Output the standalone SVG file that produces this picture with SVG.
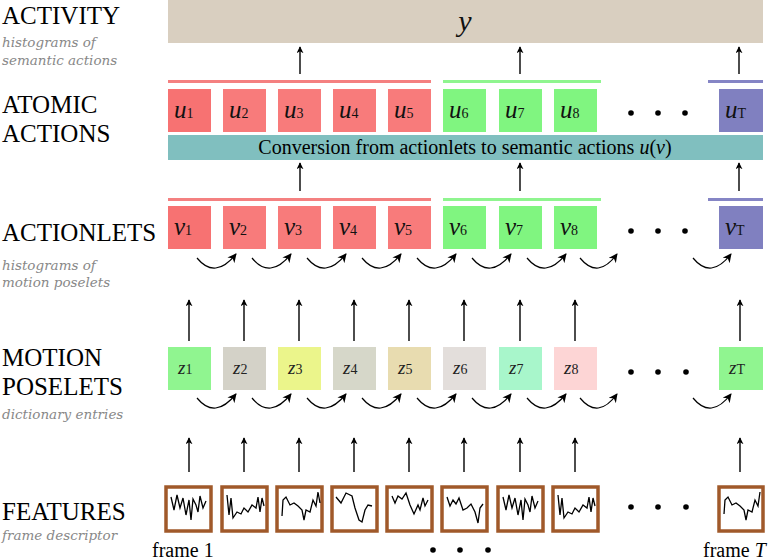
<svg xmlns="http://www.w3.org/2000/svg" width="781" height="560" viewBox="0 0 781 560">
<defs>
<marker id="ah" viewBox="0 0 10 10" refX="9" refY="5" markerWidth="7" markerHeight="7" orient="auto-start-reverse" markerUnits="userSpaceOnUse"><path d="M0,0 L10,5 L0,10 L3,5 z" fill="#000"/></marker>
<marker id="ah2" viewBox="0 0 10 10" refX="9" refY="5" markerWidth="9" markerHeight="9" orient="auto" markerUnits="userSpaceOnUse"><path d="M0,0 L10,5 L0,10 L3,5 z" fill="#000"/></marker>
<style>
.lbl{font-family:"Liberation Serif","DejaVu Serif",serif;font-size:25px;fill:#000}
.sub{font-family:"DejaVu Serif","Liberation Serif",serif;font-size:13.5px;font-style:italic;fill:#888}
.var{font-family:"Liberation Serif","DejaVu Serif",serif;font-size:25px;font-style:italic;fill:#111}
.zv{font-family:"Liberation Serif","DejaVu Serif",serif;font-size:19px;font-style:italic;fill:#222}
.idx{font-style:normal;font-size:14px}
.up{stroke:#000;stroke-width:1.4;fill:none;marker-end:url(#ah)}
.cv{stroke:#000;stroke-width:1.2;fill:none;marker-end:url(#ah2)}
.fr{fill:#fff;stroke:#a0592a;stroke-width:3.5}
.wv{fill:none;stroke:#000;stroke-width:1.3}
.dot{fill:#000}
</style>
</defs>
<rect width="781" height="560" fill="#fff"/>
<g id="labels">
<text class="lbl" x="2" y="24">ACTIVITY</text>
<text class="sub" x="2" y="47">histograms of</text>
<text class="sub" x="2" y="65">semantic actions</text>
<text class="lbl" x="2" y="113">ATOMIC</text>
<text class="lbl" x="2" y="142">ACTIONS</text>
<text class="lbl" x="2" y="241">ACTIONLETS</text>
<text class="sub" x="2" y="270">histograms of</text>
<text class="sub" x="2" y="287">motion poselets</text>
<text class="lbl" x="2" y="366">MOTION</text>
<text class="lbl" x="2" y="395">POSELETS</text>
<text class="sub" x="2" y="419">dictionary entries</text>
<text class="lbl" x="2" y="520">FEATURES</text>
<text class="sub" x="2" y="540">frame descriptor</text>
<text class="lbl" x="152" y="557" style="font-size:20px">frame 1</text>
<text class="lbl" x="703" y="557" style="font-size:20px">frame <tspan font-style="italic">T</tspan></text>
</g>
<g id="activity"><rect x="168" y="0" width="595" height="43" fill="#d9cfc0"/><text class="var" x="465" y="31" text-anchor="middle" style="font-size:30px">y</text></g>
<g id="groupbars">
<rect x="168" y="80" width="263" height="3" fill="#f48080"/><rect x="443" y="80" width="158" height="3" fill="#8ff58f"/><rect x="708" y="80" width="55" height="3" fill="#8585c5"/>
<rect x="168" y="198" width="263" height="3" fill="#f48080"/><rect x="443" y="198" width="158" height="3" fill="#8ff58f"/><rect x="708" y="198" width="55" height="3" fill="#8585c5"/>
</g>
<g id="u-row">
<g id="u1"><rect x="168" y="89" width="43" height="43" fill="#f77272"/><text class="var" x="174" y="118">u<tspan class="idx">1</tspan></text></g>
<g id="u2"><rect x="223" y="89" width="43" height="43" fill="#f87b7b"/><text class="var" x="229" y="118">u<tspan class="idx">2</tspan></text></g>
<g id="u3"><rect x="278" y="89" width="43" height="43" fill="#f87b7b"/><text class="var" x="284" y="118">u<tspan class="idx">3</tspan></text></g>
<g id="u4"><rect x="333" y="89" width="43" height="43" fill="#f87b7b"/><text class="var" x="339" y="118">u<tspan class="idx">4</tspan></text></g>
<g id="u5"><rect x="388" y="89" width="43" height="43" fill="#f87b7b"/><text class="var" x="394" y="118">u<tspan class="idx">5</tspan></text></g>
<g id="u6"><rect x="443" y="89" width="43" height="43" fill="#80f580"/><text class="var" x="449" y="118">u<tspan class="idx">6</tspan></text></g>
<g id="u7"><rect x="499" y="89" width="43" height="43" fill="#80f580"/><text class="var" x="505" y="118">u<tspan class="idx">7</tspan></text></g>
<g id="u8"><rect x="554" y="89" width="43" height="43" fill="#80f580"/><text class="var" x="560" y="118">u<tspan class="idx">8</tspan></text></g>
<g id="uT"><rect x="719" y="89" width="44" height="43" fill="#8080c0"/><text class="var" x="725" y="118">u<tspan class="idx" font-style="italic">T</tspan></text></g>
<circle class="dot" cx="631" cy="113" r="2.8"/><circle class="dot" cx="658" cy="113" r="2.8"/><circle class="dot" cx="685" cy="113" r="2.8"/>
</g>
<g id="conversion"><rect x="168" y="135" width="595" height="25" fill="#80bfbf"/><text class="lbl" x="465" y="154" text-anchor="middle" style="font-size:20px">Conversion from actionlets to semantic actions <tspan font-style="italic">u</tspan>(<tspan font-style="italic">v</tspan>)</text></g>
<g id="v-row">
<g id="v1"><rect x="168" y="206" width="43" height="43" fill="#f77272"/><text class="var" x="174" y="235">v<tspan class="idx">1</tspan></text></g>
<g id="v2"><rect x="223" y="206" width="43" height="43" fill="#f87b7b"/><text class="var" x="229" y="235">v<tspan class="idx">2</tspan></text></g>
<g id="v3"><rect x="278" y="206" width="43" height="43" fill="#f87b7b"/><text class="var" x="284" y="235">v<tspan class="idx">3</tspan></text></g>
<g id="v4"><rect x="333" y="206" width="43" height="43" fill="#f87b7b"/><text class="var" x="339" y="235">v<tspan class="idx">4</tspan></text></g>
<g id="v5"><rect x="388" y="206" width="43" height="43" fill="#f87b7b"/><text class="var" x="394" y="235">v<tspan class="idx">5</tspan></text></g>
<g id="v6"><rect x="443" y="206" width="43" height="43" fill="#80f580"/><text class="var" x="449" y="235">v<tspan class="idx">6</tspan></text></g>
<g id="v7"><rect x="499" y="206" width="43" height="43" fill="#80f580"/><text class="var" x="505" y="235">v<tspan class="idx">7</tspan></text></g>
<g id="v8"><rect x="554" y="206" width="43" height="43" fill="#80f580"/><text class="var" x="560" y="235">v<tspan class="idx">8</tspan></text></g>
<g id="vT"><rect x="719" y="206" width="44" height="43" fill="#8080c0"/><text class="var" x="725" y="235">v<tspan class="idx" font-style="italic">T</tspan></text></g>
<circle class="dot" cx="631" cy="231" r="2.8"/><circle class="dot" cx="658" cy="231" r="2.8"/><circle class="dot" cx="685" cy="231" r="2.8"/>
</g>
<g id="z-row">
<g id="z1"><rect x="168" y="347" width="43" height="43" fill="#90f590"/><text class="zv" x="178" y="374">z<tspan class="idx">1</tspan></text></g>
<g id="z2"><rect x="223" y="347" width="43" height="43" fill="#d4d2c8"/><text class="zv" x="233" y="374">z<tspan class="idx">2</tspan></text></g>
<g id="z3"><rect x="278" y="347" width="43" height="43" fill="#ebf58b"/><text class="zv" x="288" y="374">z<tspan class="idx">3</tspan></text></g>
<g id="z4"><rect x="333" y="347" width="43" height="43" fill="#d6d7c9"/><text class="zv" x="343" y="374">z<tspan class="idx">4</tspan></text></g>
<g id="z5"><rect x="388" y="347" width="43" height="43" fill="#e8dcb0"/><text class="zv" x="398" y="374">z<tspan class="idx">5</tspan></text></g>
<g id="z6"><rect x="443" y="347" width="43" height="43" fill="#e3dedb"/><text class="zv" x="453" y="374">z<tspan class="idx">6</tspan></text></g>
<g id="z7"><rect x="499" y="347" width="43" height="43" fill="#a8f6cb"/><text class="zv" x="509" y="374">z<tspan class="idx">7</tspan></text></g>
<g id="z8"><rect x="554" y="347" width="43" height="43" fill="#fdd5d5"/><text class="zv" x="564" y="374">z<tspan class="idx">8</tspan></text></g>
<g id="zT"><rect x="719" y="347" width="44" height="43" fill="#90f590"/><text class="zv" x="729" y="374">z<tspan class="idx" font-style="italic">T</tspan></text></g>
<circle class="dot" cx="631" cy="372" r="2.8"/><circle class="dot" cx="658" cy="372" r="2.8"/><circle class="dot" cx="686" cy="372" r="2.8"/>
</g>
<g id="features">
<g id="f1"><rect class="fr" x="166" y="487" width="45" height="44"/><polyline class="wv" points="171,497 174,510 177,495 180,508 183,498 186,515 189,500 191,520 193,499 196,505 198,512 200,496 203,508 206,501"/></g>
<g id="f2"><rect class="fr" x="222" y="487" width="45" height="44"/><polyline class="wv" points="227,495 229,515 231,498 233,518 237,512 241,514 244,508 248,512 252,505 256,508 258,497 260,512 262,498 264,506"/></g>
<g id="f3"><rect class="fr" x="277" y="487" width="45" height="44"/><polyline class="wv" points="282,516 283,500 286,497 290,505 294,503 298,506 302,510 304,520 306,510 310,512 313,500 316,506 318,492 320,503"/></g>
<g id="f4"><rect class="fr" x="332" y="487" width="45" height="44"/><polyline class="wv" points="336,497 341,503 346,493 352,496 355,508 359,520 362,522 365,510 368,505 372,506"/></g>
<g id="f5"><rect class="fr" x="387" y="487" width="45" height="44"/><polyline class="wv" points="392,496 395,503 398,496 402,499 406,493 410,505 414,514 418,505 420,510 423,498 425,506 428,500"/></g>
<g id="f6"><rect class="fr" x="442" y="487" width="45" height="44"/><polyline class="wv" points="447,497 450,506 453,500 456,504 459,498 463,510 467,508 471,504 475,512 478,523 480,508 483,504"/></g>
<g id="f7"><rect class="fr" x="498" y="487" width="45" height="44"/><polyline class="wv" points="503,497 506,510 509,495 512,508 515,498 518,515 521,500 523,520 525,499 528,505 530,512 532,496 535,508 538,501"/></g>
<g id="f8"><rect class="fr" x="553" y="487" width="45" height="44"/><polyline class="wv" points="558,495 560,515 562,498 564,518 568,512 572,514 575,508 579,512 583,505 587,508 589,497 591,512 593,498 595,506"/></g>
<g id="fT"><rect class="fr" x="719" y="487" width="44" height="44"/><polyline class="wv" points="724,514 725,500 728,497 732,505 736,503 740,506 744,510 746,520 748,510 752,512 755,500 758,506 760,492"/></g>
<circle class="dot" cx="631" cy="507" r="2.8"/><circle class="dot" cx="658" cy="507" r="2.8"/><circle class="dot" cx="686" cy="507" r="2.8"/>
<circle class="dot" cx="433" cy="550" r="2.8"/><circle class="dot" cx="460" cy="550" r="2.8"/><circle class="dot" cx="488" cy="550" r="2.8"/>
</g>
<g id="connectors">
<line class="up" x1="300" y1="74" x2="300" y2="47"/><line class="up" x1="520" y1="74" x2="520" y2="47"/><line class="up" x1="739" y1="74" x2="739" y2="47"/>
<line class="up" x1="300" y1="191" x2="300" y2="163"/><line class="up" x1="520" y1="191" x2="520" y2="163"/><line class="up" x1="739" y1="191" x2="739" y2="163"/>
<line class="up" x1="189" y1="341" x2="189" y2="300"/><line class="up" x1="244" y1="341" x2="244" y2="300"/><line class="up" x1="299" y1="341" x2="299" y2="300"/><line class="up" x1="354" y1="341" x2="354" y2="300"/><line class="up" x1="409" y1="341" x2="409" y2="300"/><line class="up" x1="464" y1="341" x2="464" y2="300"/><line class="up" x1="520" y1="341" x2="520" y2="300"/><line class="up" x1="575" y1="341" x2="575" y2="300"/><line class="up" x1="740" y1="341" x2="740" y2="300"/>
<line class="up" x1="189" y1="472" x2="189" y2="438"/><line class="up" x1="244" y1="472" x2="244" y2="438"/><line class="up" x1="299" y1="472" x2="299" y2="438"/><line class="up" x1="354" y1="472" x2="354" y2="438"/><line class="up" x1="409" y1="472" x2="409" y2="438"/><line class="up" x1="464" y1="472" x2="464" y2="438"/><line class="up" x1="520" y1="472" x2="520" y2="438"/><line class="up" x1="575" y1="472" x2="575" y2="438"/><line class="up" x1="740" y1="472" x2="740" y2="438"/>
<path class="cv" d="M197,258 Q215,280 236,254"/><path class="cv" d="M252,258 Q270,280 291,254"/><path class="cv" d="M307,258 Q325,280 346,254"/><path class="cv" d="M362,258 Q380,280 401,254"/><path class="cv" d="M417,258 Q435,280 456,254"/><path class="cv" d="M472,258 Q490,280 511,254"/><path class="cv" d="M527,258 Q545,280 566,254"/><path class="cv" d="M580,258 Q598,280 617,254"/><path class="cv" d="M693,258 Q711,280 731,254"/>
<path class="cv" d="M197,398 Q215,420 236,394"/><path class="cv" d="M252,398 Q270,420 291,394"/><path class="cv" d="M307,398 Q325,420 346,394"/><path class="cv" d="M362,398 Q380,420 401,394"/><path class="cv" d="M417,398 Q435,420 456,394"/><path class="cv" d="M472,398 Q490,420 511,394"/><path class="cv" d="M527,398 Q545,420 566,394"/><path class="cv" d="M580,398 Q598,420 617,394"/><path class="cv" d="M693,398 Q711,420 731,394"/>
</g>
</svg>
